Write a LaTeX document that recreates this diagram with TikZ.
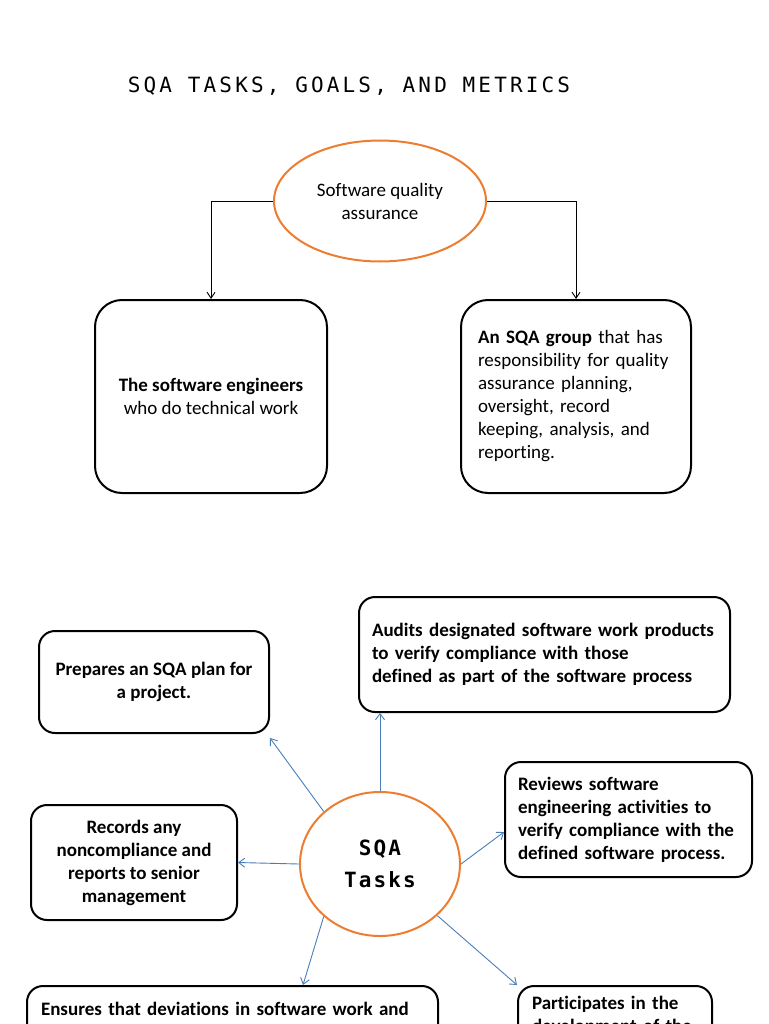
\documentclass[tikz,border=0pt]{standalone}
\usepackage{fontspec}
\setmainfont{Carlito}[Ligatures=NoCommon]
\newfontfamily\titlefont[LetterSpace=15]{DejaVu Sans Mono}
\newfontfamily\taskfont[LetterSpace=10]{DejaVu Sans Mono}
\usetikzlibrary{arrows.meta,shapes.geometric,calc}
\definecolor{sqaorange}{HTML}{ED7D31}
\definecolor{sqablue}{HTML}{4A7EBB}
\begin{document}
\begin{tikzpicture}[x=1pt,y=-1pt,
  body/.style={font=\fontsize{19}{23}\selectfont},
  boldbody/.style={font=\bfseries\fontsize{19}{23}\selectfont},
  roundbox/.style={draw=black, line width=2pt, rounded corners=#1, body, inner sep=0pt},
  roundbox/.default=27pt,
  oval/.style={ellipse, draw=sqaorange, line width=2pt, inner sep=0pt, align=center},
  blackarrow/.style={draw=black, line width=0.9pt, -{Straight Barb[length=6pt,width=8pt]}},
  bluearrow/.style={draw=sqablue, line width=0.9pt, -{Straight Barb[length=6pt,width=9pt]}}
]
\useasboundingbox (0,0) rectangle (768,1024);
\clip (0,0) rectangle (768,1024);
\fill[white] (0,0) rectangle (768,1024);

% title
\node[anchor=base, inner sep=0pt, font=\titlefont\fontsize{21}{25}\selectfont] (title) at (349,93) {SQA TASKS, GOALS, AND METRICS};

% top part
\node[oval, minimum width=212pt, minimum height=121pt, body] (sqa) at (380,201) {Software quality\\assurance};
\node[roundbox, minimum width=232pt, minimum height=193pt, align=center] (eng) at (211,396.5)
  {\textbf{The software engineers}\\who do technical work};
\node[roundbox, minimum width=230pt, minimum height=193pt, text width=196pt, inner xsep=17pt, align=left] (group) at (576,396.5)
  {\textbf{An SQA group} that has\\\mbox{responsibility for quality}\\assurance planning,\\oversight, record\\keeping, analysis, and\\reporting.};
\draw[blackarrow] (sqa.west) -| (eng.north);
\draw[blackarrow] (sqa.east) -| (group.north);

% bottom part
\node[oval, minimum width=160pt, minimum height=144pt, font=\taskfont\bfseries\fontsize{21}{32}\selectfont] (tasks) at (380,864) {SQA\\Tasks};

\node[roundbox=16pt, minimum width=230pt, minimum height=102pt, align=center, boldbody] (prep) at (154,682)
  {Prepares an SQA plan for\\a project.};
\node[roundbox=16pt, minimum width=371pt, minimum height=115pt, text width=345pt, inner xsep=13pt, align=left, boldbody] (audits) at (544.5,654.5)
  {\mbox{Audits designated software work products}\\to verify compliance with those\\\mbox{defined as part of the software process}};
\node[roundbox=16pt, minimum width=247pt, minimum height=115pt, text width=221pt, inner xsep=13pt, align=left, boldbody] (reviews) at (628.5,819.5)
  {Reviews software\\engineering activities to\\\mbox{verify compliance with the}\\defined software process.};
\node[roundbox=16pt, minimum width=206pt, minimum height=115pt, align=center, boldbody] (records) at (134,862.5)
  {Records any\\noncompliance and\\reports to senior\\management};
\node[roundbox=16pt, anchor=north west, text width=383pt, inner xsep=14pt, inner ysep=16pt, align=left, boldbody] (ensures) at (26,985)
  {Ensures that deviations in software work and\\\mbox{}\\\mbox{}\\\mbox{}};
\node[roundbox=16pt, anchor=north west, text width=166pt, inner xsep=14pt, inner ysep=10pt, align=left, boldbody] (partic) at (517,985)
  {Participates in the\\development of the\\\mbox{}\\\mbox{}};

\draw[bluearrow] (tasks.north) -- (tasks.north |- audits.south);
\draw[bluearrow] (tasks.137) -- ([yshift=-4pt]prep.south east);
\draw[bluearrow] (tasks.west) -- (records.east);
\draw[bluearrow] (tasks.east) -- ([yshift=-12.5pt]reviews.west);
\draw[bluearrow] (tasks.223) -- ([xshift=70.5pt]ensures.north);
\draw[bluearrow] (tasks.318) -- (partic.north west);
\end{tikzpicture}
\end{document}
